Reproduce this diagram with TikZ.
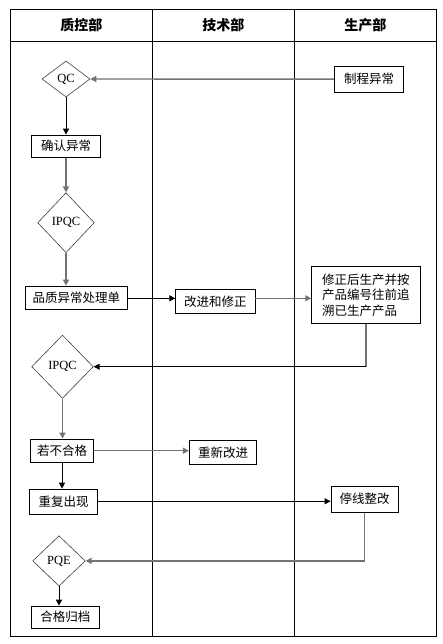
\documentclass[tikz,border=0pt]{standalone}
\usepackage{fontspec}
\setmainfont{Liberation Serif}
\newfontfamily\cjk{Noto Sans CJK SC}
\usetikzlibrary{shapes.geometric,arrows.meta}
\tikzset{
  x=1pt,y=-1pt,
  tbl/.style={line width=0.9pt,black},
  hdr/.style={font=\cjk\bfseries\fontsize{14}{16}\selectfont},
  boxn/.style={draw,line width=0.8pt,inner sep=0pt,font=\cjk\fontsize{12.5}{15.5}\selectfont},
  dia/.style={draw=black!75,diamond,line width=0.6pt,inner sep=0pt,font=\fontsize{12.5}{14}\selectfont},
  arrg/.style={draw=black!55,line width=1.4pt,-{Triangle[length=6pt,width=6pt]}},
  arrk/.style={draw=black,line width=0.9pt,-{Triangle[length=6pt,width=6pt]}},
}
\begin{document}
\begin{tikzpicture}
\useasboundingbox (0,0) rectangle (442,644);
\fill[white] (0,0) rectangle (442,644);
% table
\draw[tbl] (10.3,9.5) rectangle (436.3,636.7);
\draw[tbl] (10.3,41.3) -- (436.3,41.3);
\draw[tbl] (152.3,9.5) -- (152.3,636.7);
\draw[tbl] (294.3,9.5) -- (294.3,636.7);
\node[hdr] (h1) at (81.3,25.5) {质控部};
\node[hdr] (h2) at (223.3,25.5) {技术部};
\node[hdr] (h3) at (365.3,25.5) {生产部};
% nodes
\node[dia,minimum width=48pt,minimum height=36pt] (qc) at (66,79) {QC};
\node[boxn,minimum width=69.4pt,minimum height=26.3pt] (zcyc) at (369,79.2) {制程异常};
\node[boxn,minimum width=68.3pt,minimum height=22.3pt] (qr) at (66,146.2) {确认异常};
\node[dia,minimum width=56.6pt,minimum height=60pt] (ipqc1) at (66,222.7) {IPQC};
\node[boxn,minimum width=102.7pt,minimum height=23.3pt] (pz) at (76.3,297.7) {品质异常处理单};
\node[boxn,minimum width=79.3pt,minimum height=24pt] (gj) at (215.3,301.3) {改进和修正};
\node[boxn,minimum width=108.3pt,minimum height=56.6pt,align=left] (xz) at (365.8,295) {修正后生产并按\\产品编号往前追\\溯已生产产品};
\node[dia,minimum width=61.6pt,minimum height=63.3pt] (ipqc2) at (62.5,366.7) {IPQC};
\node[boxn,minimum width=63.4pt,minimum height=23.7pt] (bhg) at (62,450.8) {若不合格};
\node[boxn,minimum width=67.4pt,minimum height=24pt] (cxgj) at (223,452.7) {重新改进};
\node[boxn,minimum width=68.4pt,minimum height=25.3pt] (cf) at (63.5,501.7) {重复出现};
\node[boxn,minimum width=67.3pt,minimum height=26.3pt] (tx) at (364.7,499.2) {停线整改};
\node[dia,minimum width=52.6pt,minimum height=50.3pt] (pqe) at (59,560.9) {PQE};
\node[boxn,minimum width=68pt,minimum height=22.3pt] (hg) at (65.3,617.2) {合格归档};
% connectors
\draw[arrg] (zcyc.west) -- (qc.east);
\draw[arrk] (qc.south) -- (qr.north);
\draw[arrg] (qr.south) -- (ipqc1.north);
\draw[arrg] (ipqc1.south) -- (ipqc1.south |- pz.north);
\coordinate (y1) at (0,298.3);
\draw[arrk] (pz.east |- y1) -- (gj.west |- y1);
\draw[arrg] (gj.east |- y1) -- (xz.west |- y1);
\draw[arrg,-] (xz.south) -- (xz.south |- ipqc2.east);
\draw[arrk] (xz.south |- ipqc2.east) -- (ipqc2.east);
\draw[arrg] (ipqc2.south) -- (ipqc2.south |- bhg.north);
\coordinate (y2) at (0,450.7);
\draw[arrg] (bhg.east |- y2) -- (cxgj.west |- y2);
\draw[arrk] (bhg.south) -- (bhg.south |- cf.north);
\coordinate (y3) at (0,501.3);
\draw[arrk] (cf.east |- y3) -- (tx.west |- y3);
\draw[arrg] (tx.south) |- (pqe.east);
\draw[arrk] (pqe.south) -- (pqe.south |- hg.north);
\end{tikzpicture}
\end{document}
